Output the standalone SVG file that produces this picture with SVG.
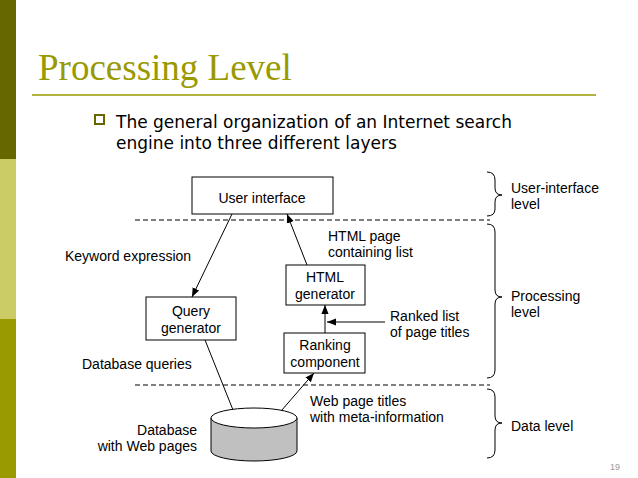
<svg xmlns="http://www.w3.org/2000/svg" width="638" height="478" viewBox="0 0 638 478">
<defs>
<marker id="ah" viewBox="0 0 10 10" refX="10" refY="5" markerWidth="9" markerHeight="9" markerUnits="userSpaceOnUse" orient="auto"><path d="M0,1 L10,5 L0,9 Z" fill="#000"/></marker>
<style>
.t{font-family:"Liberation Sans",Arial,sans-serif;font-size:14px;fill:#000}
.b{fill:#fff;stroke:#000;stroke-width:1}
.c{stroke:#000;stroke-width:1;fill:none;marker-end:url(#ah)}
.br{stroke:#000;stroke-width:1;fill:none}
</style>
</defs>
<rect width="638" height="478" fill="#fff"/>
<rect x="0" y="0" width="16" height="159" fill="#676700"/>
<rect x="0" y="159" width="16" height="160" fill="#cccc66"/>
<rect x="0" y="319" width="16" height="159" fill="#999900"/>
<text x="38" y="80" font-family="Liberation Serif,serif" font-size="37" fill="#999900">Processing Level</text>
<line x1="32" y1="95" x2="596" y2="95" stroke="#999900" stroke-width="1.5"/>
<rect x="95" y="115" width="9" height="9" fill="none" stroke="#676700" stroke-width="2"/>
<text font-family="DejaVu Sans,Verdana,sans-serif" font-size="17" fill="#000"><tspan x="116" y="128">The general organization of an Internet search</tspan><tspan x="116" y="149">engine into three different layers</tspan></text>
<g id="connectors">
<line x1="135" y1="220" x2="490" y2="220" stroke="#000" stroke-dasharray="5,3"/>
<line x1="135" y1="385" x2="490" y2="385" stroke="#000" stroke-dasharray="5,3"/>
<line class="c" x1="232" y1="214" x2="192" y2="297"/>
<line class="c" x1="205" y1="340" x2="237" y2="420"/>
<line class="c" x1="275" y1="418" x2="314" y2="373"/>
<line class="c" x1="325" y1="333" x2="325" y2="305"/>
<line class="c" x1="385" y1="322" x2="327" y2="322"/>
<line class="c" x1="307" y1="265" x2="287" y2="214"/>
</g>
<g id="ui"><rect class="b" x="192" y="177" width="141" height="37"/><text class="t" x="262" y="203" text-anchor="middle">User interface</text></g>
<g id="html"><rect class="b" x="286" y="265" width="79" height="40"/><text class="t" text-anchor="middle"><tspan x="325" y="282">HTML</tspan><tspan x="325" y="299">generator</tspan></text></g>
<g id="query"><rect class="b" x="146" y="297" width="90" height="43"/><text class="t" text-anchor="middle"><tspan x="191" y="316">Query</tspan><tspan x="191" y="333">generator</tspan></text></g>
<g id="ranking"><rect class="b" x="284" y="333" width="81" height="40"/><text class="t" text-anchor="middle"><tspan x="325" y="350">Ranking</tspan><tspan x="325" y="367">component</tspan></text></g>
<g id="db">
<path d="M211,418 L211,451 A43,10 0 0 0 297,451 L297,418" fill="#c0c0c0" stroke="#000"/>
<ellipse cx="254" cy="418" rx="43" ry="10" fill="#fff" stroke="#000"/>
</g>
<g id="labels">
<text class="t" x="65" y="261">Keyword expression</text>
<text class="t" x="328" y="241">HTML page</text>
<text class="t" x="328" y="257">containing list</text>
<text class="t" x="390" y="321">Ranked list</text>
<text class="t" x="390" y="337">of page titles</text>
<text class="t" x="82" y="369">Database queries</text>
<text class="t" x="310" y="406">Web page titles</text>
<text class="t" x="310" y="422">with meta-information</text>
<text class="t" x="197" y="435" text-anchor="end">Database</text>
<text class="t" x="197" y="451" text-anchor="end">with Web pages</text>
<text class="t" x="511" y="193">User-interface</text>
<text class="t" x="511" y="209">level</text>
<text class="t" x="511" y="301">Processing</text>
<text class="t" x="511" y="317">level</text>
<text class="t" x="511" y="431">Data level</text>
</g>
<g id="braces">
<path class="br" d="M487,172 Q495,172 495,180 L495,188 Q495,195 502,195 Q495,195 495,202 L495,209 Q495,216 487,216"/>
<path class="br" d="M487,224 Q495,224 495,232 L495,290 Q495,297 502,297 Q495,297 495,304 L495,370 Q495,378 487,378"/>
<path class="br" d="M487,389 Q495,389 495,397 L495,416 Q495,423 502,423 Q495,423 495,430 L495,450 Q495,458 487,458"/>
</g>
<text x="610" y="470" font-family="Liberation Sans,sans-serif" font-size="9" fill="#999">19</text>
</svg>
